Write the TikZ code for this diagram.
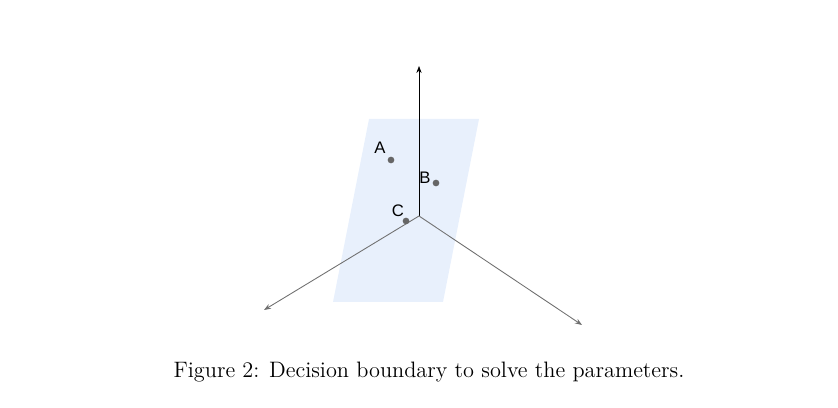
\documentclass[tikz,border=0pt]{standalone}
\usepackage{fontspec}
\newfontfamily\labelfont{Liberation Sans}
\usepackage{xcolor}
\usetikzlibrary{arrows.meta}
\definecolor{planeblue}{HTML}{E8F0FC}
\definecolor{dotgray}{HTML}{666666}
\definecolor{axisgray}{HTML}{707070}

\tikzset{
  pt/.style={circle, fill=dotgray, inner sep=0pt, minimum size=3.8pt},
  ptlabel/.style={font=\labelfont\fontsize{9.5}{11}\selectfont, inner sep=0pt},
  axis/.style={-{Stealth[length=4pt,width=3pt]}, line width=0.5pt}
}

\begin{document}
\begin{tikzpicture}[x=0.02cm, y=-0.02cm]
                \useasboundingbox (0,0) rectangle (838,408);

                % Plane
                \fill[planeblue] (369,119) -- (479,119) -- (443,302) -- (333,302) -- cycle;

                % Axes
                \coordinate (origin) at (419,216);
                \coordinate (up) at (419,66);
                \coordinate (left) at (264,310);
                \coordinate (right) at (582,325);
                \draw[axis, black, line width=0.4pt] (origin) -- (up);
                \draw[axis, axisgray] (origin) -- (left);
                \draw[axis, axisgray] (origin) -- (right);

                % Points
                \node[pt] (ptA) at (391,160) {};
                \node[pt] (ptB) at (436,183) {};
                \node[pt] (ptC) at (406,221) {};
                \node[ptlabel] (labA) at (380,148) {A};
                \node[ptlabel] (labB) at (425,178) {B};
                \node[ptlabel] (labC) at (398,211) {C};

                % Caption
                \node[font=\fontsize{12.7}{15}\selectfont] (caption) at (429,372) {Figure 2: Decision boundary to solve the parameters.};
            \end{tikzpicture}
\end{document}
